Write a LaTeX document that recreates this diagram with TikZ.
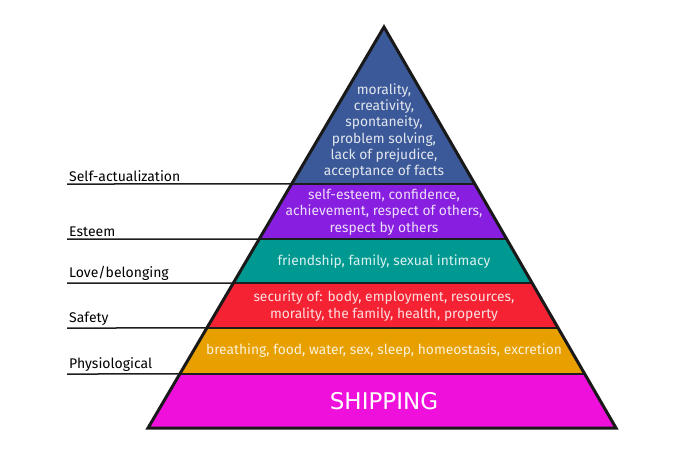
\documentclass[tikz,border=0pt]{standalone}
\usepackage{fontspec}
\setmainfont{Fira Sans}
\newfontfamily\shipfont{DejaVu Sans}
\usetikzlibrary{calc}

\definecolor{selfblue}{RGB}{59,89,152}
\definecolor{esteempurple}{RGB}{136,30,224}
\definecolor{loveteal}{RGB}{0,153,145}
\definecolor{safetyred}{RGB}{244,34,50}
\definecolor{physorange}{RGB}{232,160,0}
\definecolor{shipmagenta}{RGB}{240,16,220}
\definecolor{edgegray}{RGB}{30,30,30}

\tikzset{
  bandtext/.style={font=\fontsize{13.8}{16.3}\selectfont, align=center, inner sep=0pt},
  leveltext/.style={font=\fontsize{14}{16}\selectfont, anchor=south west, inner sep=2pt, text=black},
  levelline/.style={draw=edgegray, line width=1.5pt},
  sepline/.style={draw=edgegray, line width=1.6pt},
}

\begin{document}
\begin{tikzpicture}[x=1pt, y=-1pt]
\useasboundingbox (0,0) rectangle (680,471);

\coordinate (top) at (384,27);
\coordinate (bl) at (148,428);
\coordinate (br) at (616,428);

% band edges
\coordinate (l1) at ($(top)!0.3915!(bl)$);
\coordinate (r1) at ($(top)!0.3915!(br)$);
\coordinate (l2) at ($(top)!0.5287!(bl)$);
\coordinate (r2) at ($(top)!0.5287!(br)$);
\coordinate (l3) at ($(top)!0.6384!(bl)$);
\coordinate (r3) at ($(top)!0.6384!(br)$);
\coordinate (l4) at ($(top)!0.7506!(bl)$);
\coordinate (r4) at ($(top)!0.7506!(br)$);
\coordinate (l5) at ($(top)!0.8653!(bl)$);
\coordinate (r5) at ($(top)!0.8653!(br)$);

\fill[selfblue] (top) -- (l1) -- (r1) -- cycle;
\fill[esteempurple] (l1) -- (l2) -- (r2) -- (r1) -- cycle;
\fill[loveteal] (l2) -- (l3) -- (r3) -- (r2) -- cycle;
\fill[safetyred] (l3) -- (l4) -- (r4) -- (r3) -- cycle;
\fill[physorange] (l4) -- (l5) -- (r5) -- (r4) -- cycle;
\fill[shipmagenta] (l5) -- (bl) -- (br) -- (r5) -- cycle;

\draw[sepline] (l1) -- (r1);
\draw[sepline] (l2) -- (r2);
\draw[sepline] (l3) -- (r3);
\draw[sepline] (l4) -- (r4);
\draw[sepline] (l5) -- (r5);

% level labels
\coordinate (m1) at (67,184);
\coordinate (m2) at (67,239);
\coordinate (m3) at (67,283);
\coordinate (m4) at (67,328);
\coordinate (m5) at (67,374);

\draw[levelline] (m1) -- (l1);
\draw[levelline] (m2) -- (l2);
\draw[levelline] (m3) -- (l3);
\draw[levelline] (m4) -- (l4);
\draw[levelline] (m5) -- (l5);

\node[leveltext] (lself) at (m1) {Self-actualization};
\node[leveltext] (lesteem) at (m2) {Esteem};
\node[leveltext] (llove) at (m3) {Love/belonging};
\node[leveltext] (lsafety) at (m4) {Safety};
\node[leveltext] (lphys) at (m5) {Physiological};

\draw[draw=black!90, line width=3pt, line join=miter] (top) -- (bl) -- (br) -- cycle;

% band texts
\node[bandtext, text=white!85!selfblue] (tself) at (384,131) {morality,\\creativity,\\spontaneity,\\problem solving,\\lack of prejudice,\\acceptance of facts};
\node[bandtext, text=white!85!esteempurple] (testeem) at (384,212) {self-esteem, confidence,\\achievement, respect of others,\\respect by others};
\node[bandtext, text=white!85!loveteal] (tlove) at (384,262) {friendship, family, sexual intimacy};
\node[bandtext, text=white!85!safetyred] (tsafety) at (384,306) {security of: body, employment, resources,\\morality, the family, health, property};
\node[bandtext, text=white!85!physorange] (tphys) at (384,351) {breathing, food, water, sex, sleep, homeostasis, excretion};
\node[font=\shipfont\fontsize{23}{26}\selectfont, text=white] (tship) at (384,401) {SHIPPING};
\end{tikzpicture}
\end{document}
